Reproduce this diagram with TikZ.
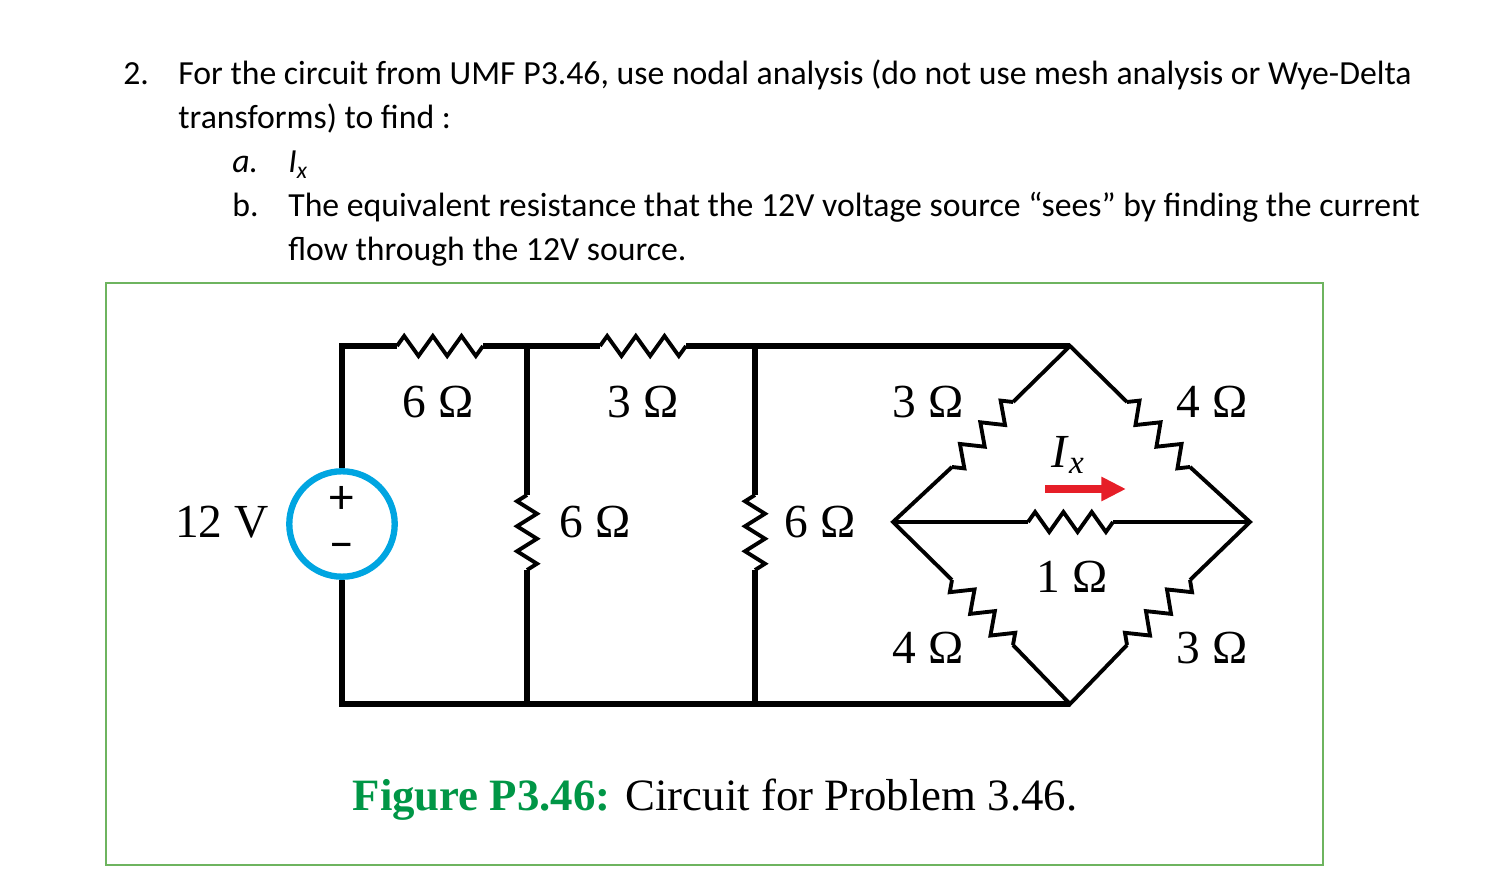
\documentclass[tikz,border=0pt]{standalone}
\usepackage{fontspec}
\setmainfont{Carlito}
\newfontfamily\circfont{Liberation Serif}
\usetikzlibrary{positioning}
\usetikzlibrary{calc}
\usetikzlibrary{arrows.meta}
\definecolor{boxgreen}{RGB}{110,180,95}
\definecolor{capgreen}{RGB}{0,150,70}
\definecolor{srcblue}{RGB}{0,165,225}
\definecolor{arrred}{RGB}{230,30,40}
\newcommand{\zigres}[4]{%
    \draw[res] (#1)
      \foreach \k/\s in {1/1,3/-1,5/1,7/-1,9/1,11/-1} {-- ($(#1)!\k/12!(#2) + (\s*#3,\s*#4)$)}
      -- (#2);}
\begin{document}
\begin{tikzpicture}[x=0.02cm, y=-0.02cm,
        wire/.style={line width=3.6pt, line join=miter},
        bridge/.style={line width=2.2pt, line join=miter},
        res/.style={line width=2.2pt, line join=miter},
        txt/.style={anchor=base west, inner sep=0pt, font=\fontsize{19.2}{22}\selectfont},
        val/.style={inner sep=0pt, font=\circfont\fontsize{27}{30}\selectfont},
        ]
    \useasboundingbox (0,0) rectangle (1499,884);
    % question text
    \node[txt] (n2) at (123,85) {2.};
    \node[txt] (l1) at (178,85) {For the circuit from UMF P3.46, use nodal analysis (do not use mesh analysis or Wye-Delta};
    \node[txt] (l2) at (178,129) {transforms) to find :};
    \node[txt] (qa) at (232,173) {\textit{a.}};
    \node[txt] (qax) at (288,173) {\textit{I}\textsubscript{\textit{x}}};
    \node[txt] (qb) at (232,217) {b.};
    \node[txt] (qb1) at (288,217) {The equivalent resistance that the 12V voltage source “sees” by finding the current};
    \node[txt] (qb2) at (288,261) {flow through the 12V source.};
    % frame
    \draw[boxgreen, line width=1.2pt] (106,283) rectangle (1323,865);
    % circuit points
    \coordinate (tl) at (342,346);
    \coordinate (bl) at (342,704);
    \coordinate (ta) at (527,346);
    \coordinate (ba) at (527,704);
    \coordinate (tb) at (755,346);
    \coordinate (bb) at (755,704);
    \coordinate (top) at (1070,346);
    \coordinate (bot) at (1070,704);
    \coordinate (lft) at (893,522);
    \coordinate (rgt) at (1250,522);
    \node[circle, draw=srcblue, line width=3.6pt, minimum size=60pt, inner sep=0pt] (src) at (342,524) {};
    \node[font=\fontsize{28}{28}\selectfont] at (342,500) {+};
    \node[font=\fontsize{28}{28}\selectfont] at (342,552) {−};
    % wires
    \coordinate (r1a) at (397,346); \coordinate (r1b) at (483,346);
    \coordinate (r2a) at (600,346); \coordinate (r2b) at (686,346);
    \coordinate (r3a) at (527,495); \coordinate (r3b) at (527,570);
    \coordinate (r4a) at (755,495); \coordinate (r4b) at (755,570);
    \draw[wire] (src.north) -- (tl) -- (r1a);
    \draw[wire] (r1b) -- (r2a);
    \draw[wire] (r2b) -- (top);
    \draw[wire] (src.south) -- (bl) -- (bot);
    \draw[wire] (ta) -- (r3a); \draw[wire] (r3b) -- (ba);
    \draw[wire] (tb) -- (r4a); \draw[wire] (r4b) -- (bb);
    \zigres{r1a}{r1b}{0}{-10}
    \zigres{r2a}{r2b}{0}{-10}
    \zigres{r3a}{r3b}{-10}{0}
    \zigres{r4a}{r4b}{-10}{0}
    % bridge
    \coordinate (r5a) at (1013,402); \coordinate (r5b) at (952,467);
    \coordinate (r6a) at (1127,402); \coordinate (r6b) at (1190,467);
    \coordinate (r7a) at (952,580); \coordinate (r7b) at (1013,645);
    \coordinate (r8a) at (1190,580); \coordinate (r8b) at (1127,645);
    \coordinate (r9a) at (1028,522); \coordinate (r9b) at (1113,522);
    \draw[bridge] (r5b) -- (lft) -- (r7a);
    \draw[bridge] (r7b) -- (bot) -- (r8b);
    \draw[bridge] (r8a) -- (rgt) -- (r6b);
    \draw[bridge] (r6a) -- (top) -- (r5a);
    \draw[bridge] (lft) -- (r9a);
    \draw[bridge] (r9b) -- (rgt);
    \zigres{r5a}{r5b}{-7.3}{-6.8}
    \zigres{r6a}{r6b}{7.3}{-6.8}
    \zigres{r7a}{r7b}{-7.3}{6.8}
    \zigres{r8a}{r8b}{7.3}{6.8}
    \zigres{r9a}{r9b}{0}{-10}
    \coordinate (ixa) at (1045,489); \coordinate (ixb) at (1126,489);
    \draw[arrred, line width=4pt, -{Triangle[length=14pt, width=13pt]}] (ixa) -- (ixb);
    % labels
    \node[val] (v12) at (222,522) {12 V};
    \node[val] (l6a) at (438,402) {6 Ω};
    \node[val] (l3a) at (643,402) {3 Ω};
    \node[val] (l6b) at (595,522) {6 Ω};
    \node[val] (l6c) at (820,522) {6 Ω};
    \node[val] (l3b) at (928,402) {3 Ω};
    \node[val] (l4a) at (1212,402) {4 Ω};
    \node[val] (l4b) at (928,648) {4 Ω};
    \node[val] (l3c) at (1212,648) {3 Ω};
    \node[val] (l1o) at (1072,577) {1 Ω};
    \node[val] (lix) at (1068,455) {\textit{I}\textsubscript{\textit{x}}};
    % caption
    \node[val, font=\circfont\fontsize{25.5}{28}\selectfont] (cap) at (715,800) {\textcolor{capgreen}{\textbf{Figure P3.46:}} Circuit for Problem 3.46.};
\end{tikzpicture}
\end{document}
